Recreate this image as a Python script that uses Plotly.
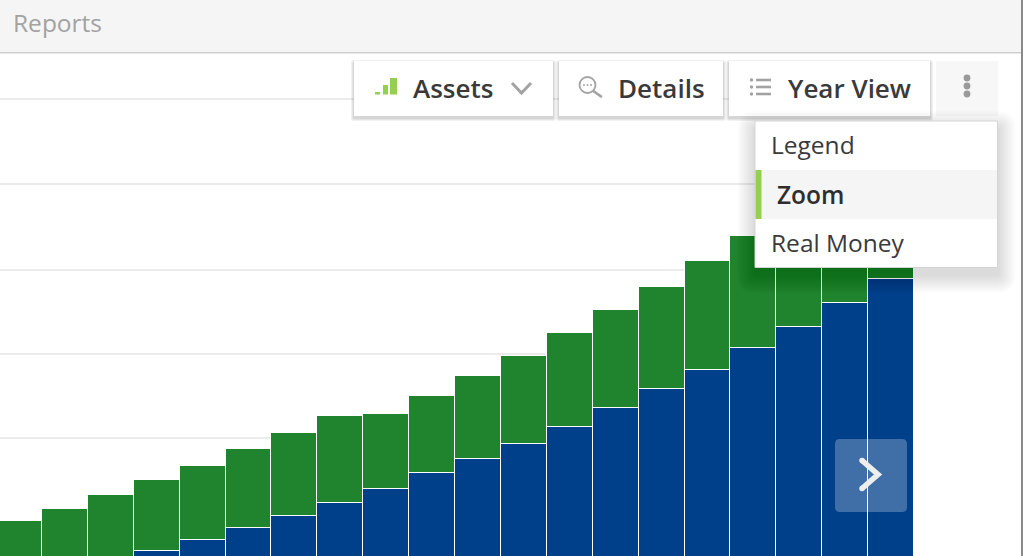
import plotly.graph_objects as go

WIDTH, HEIGHT = 1023, 556

# Stacked asset series, one bar per period
periods = list(range(20))
blue_values = [30, 42, 55, 67.5, 80.5, 94.5, 108.5, 123.5, 139.5, 158.5, 175.5, 193.5, 213.5, 235.5, 257.5, 280.5, 305.5, 330.5, 358.5, 386.5]
green_values = [72, 74, 78, 83.5, 86.5, 92.5, 97.5, 102.5, 88.5, 90.5, 97.5, 102.5, 110.5, 115.5, 120.5, 127.5, 132.5, 135, 135, 135]
grid_values = [200, 298.8, 397.6, 498.5, 598.8]

# Toolbar and menu wording
page_title = "Reports"
toolbar_labels = ["Assets", "Details", "Year View"]
menu_labels = ["Legend", "Zoom", "Real Money"]

BLUE = "#003f8a"
GREEN = "#20832d"
ACCENT = "#95cf4f"
INK = "#3a3a3a"
ICON = "#a3a3a3"


def px(x):
    return x / WIDTH


def py(y):
    return 1 - y / HEIGHT


shapes = []


def rect(x0, y0, x1, y1, fill, line=None, line_width=1, opacity=1):
    shapes.append(dict(
        type="rect", xref="paper", yref="paper",
        x0=px(x0), x1=px(x1), y0=py(y0), y1=py(y1),
        fillcolor=fill, opacity=opacity,
        line=dict(color=line or fill, width=line_width if line else 0),
    ))


def circle(cx, cy, r, fill=None, line=None, line_width=0):
    shapes.append(dict(
        type="circle", xref="paper", yref="paper",
        x0=px(cx - r), x1=px(cx + r), y0=py(cy - r), y1=py(cy + r),
        fillcolor=fill or "rgba(0,0,0,0)",
        line=dict(color=line or "rgba(0,0,0,0)", width=line_width),
    ))


def polyline(points, color, width, round_ends=False):
    path = "M " + " L ".join(f"{px(x):.5f},{py(y):.5f}" for x, y in points)
    shapes.append(dict(type="path", xref="paper", yref="paper", path=path,
                       line=dict(color=color, width=width)))
    if round_ends:
        for x, y in (points[0], points[-1]):
            circle(x, y, width / 2, fill=color)


def rounded(x0, y0, x1, y1, r, fill):
    corners = [
        f"M {px(x0 + r):.5f},{py(y0):.5f}", f"L {px(x1 - r):.5f},{py(y0):.5f}",
        f"Q {px(x1):.5f},{py(y0):.5f} {px(x1):.5f},{py(y0 + r):.5f}",
        f"L {px(x1):.5f},{py(y1 - r):.5f}",
        f"Q {px(x1):.5f},{py(y1):.5f} {px(x1 - r):.5f},{py(y1):.5f}",
        f"L {px(x0 + r):.5f},{py(y1):.5f}",
        f"Q {px(x0):.5f},{py(y1):.5f} {px(x0):.5f},{py(y1 - r):.5f}",
        f"L {px(x0):.5f},{py(y0 + r):.5f}",
        f"Q {px(x0):.5f},{py(y0):.5f} {px(x0 + r):.5f},{py(y0):.5f} Z",
    ]
    shapes.append(dict(type="path", xref="paper", yref="paper", path=" ".join(corners),
                       fillcolor=fill, line=dict(width=0)))


def shadow(x0, y0, x1, y1, spread, dy, alpha):
    # Soft drop shadow built from stacked translucent rectangles
    for s in range(spread, 0, -1):
        rounded(x0 - s, y0 - s + dy, x1 + s, y1 + s + dy, s, f"rgba(0,0,0,{alpha})")


# Page header strip
rect(0, 0, WIDTH, 52, "#f5f5f5")
rect(0, 52, WIDTH, 53.5, "#cfcfcf")

# Toolbar buttons
button_spans = [(354, 553), (559, 723), (729, 930)]
for left, right in button_spans:
    shadow(left, 61, right, 116, 3, 2, 0.055)
    rect(left, 61, right, 116, "#ffffff")

# Overflow button with its three dots
rect(936, 61, 998, 116, "#f7f7f7")
for dot_y in (78, 86, 94):
    circle(967, dot_y, 3.4, fill="#9a9a9a")

# Assets icon and dropdown caret
rect(375, 92, 380, 94.5, ACCENT)
rect(383, 85, 388, 94.5, ACCENT)
rect(390, 78, 397, 94.5, ACCENT)
polyline([(512, 83), (521.5, 93), (531, 83)], "#a3a3a3", 3)

# Details icon: magnifier holding three dots
circle(587.5, 85, 8, line=ICON, line_width=1.8)
for dot_x in (584, 587.5, 591):
    circle(dot_x, 85, 1, fill=ICON)
polyline([(594, 91.5), (601, 96.5)], ICON, 2.6, round_ends=True)

# Year View icon: bulleted list
for row_y in (80, 87, 94):
    circle(751.5, row_y, 1.7, fill=ICON)
    polyline([(756, row_y), (771, row_y)], ICON, 2.6)

# Dropdown menu
shadow(755, 121, 998, 267, 18, 8, 0.009)
rect(755, 121, 997.5, 267.5, "#ffffff", line="#d4d4d4", line_width=1)
rect(756, 170, 997, 219, "#f5f5f5")
rect(755.5, 170, 761.5, 219, ACCENT)

# Paging arrow over the bars
rounded(835, 439, 907, 512, 5, "rgba(255,255,255,0.25)")
polyline([(862, 460.5), (878, 474.5), (862, 488.5)], "#eeeeee", 5.5, round_ends=True)

# Right window edge
rect(1021, 0, WIDTH, HEIGHT, "#8a8a8a")


def label(x, y, text, size, color=INK, weight=400):
    return dict(
        xref="paper", yref="paper", x=px(x), y=py(y), text=text,
        xanchor="left", yanchor="middle", showarrow=False, borderpad=0,
        font=dict(family="Open Sans", size=size, color=color, weight=weight),
    )


annotations = [
    label(12, 22.5, page_title, 24.5, color="#a2a2a2"),
    label(412, 87.5, toolbar_labels[0], 26, weight=600),
    label(616.5, 87.5, toolbar_labels[1], 26, weight=600),
    label(787, 87.5, toolbar_labels[2], 26, weight=600),
    label(770, 145, menu_labels[0], 24.5),
    label(776, 194, menu_labels[1], 24.5, color="#2e2e2e", weight=600),
    label(770, 243, menu_labels[2], 24.5),
]

fig = go.Figure()
fig.add_bar(x=periods, y=blue_values, marker=dict(color=BLUE, line=dict(color="#ffffff", width=1.3)), hoverinfo="skip")
fig.add_bar(x=periods, y=green_values, marker=dict(color=GREEN, line=dict(color="#ffffff", width=1.3)), hoverinfo="skip")

fig.update_layout(
    width=WIDTH, height=HEIGHT,
    margin=dict(l=0, r=0, t=0, b=0),
    paper_bgcolor="#ffffff", plot_bgcolor="#ffffff",
    barmode="stack", bargap=0, showlegend=False,
    shapes=shapes, annotations=annotations,
    xaxis=dict(domain=[0, 914 / WIDTH], range=[-0.414, 19.5], visible=False, fixedrange=True),
    yaxis=dict(
        domain=[0, 1 - 53 / HEIGHT], range=[61.2, 652.9],
        tickvals=grid_values, showticklabels=False, ticks="",
        showgrid=True, gridcolor="#ebebeb", gridwidth=2, zeroline=False, fixedrange=True,
    ),
)

fig.write_html("out.html", config=dict(displayModeBar=False))
